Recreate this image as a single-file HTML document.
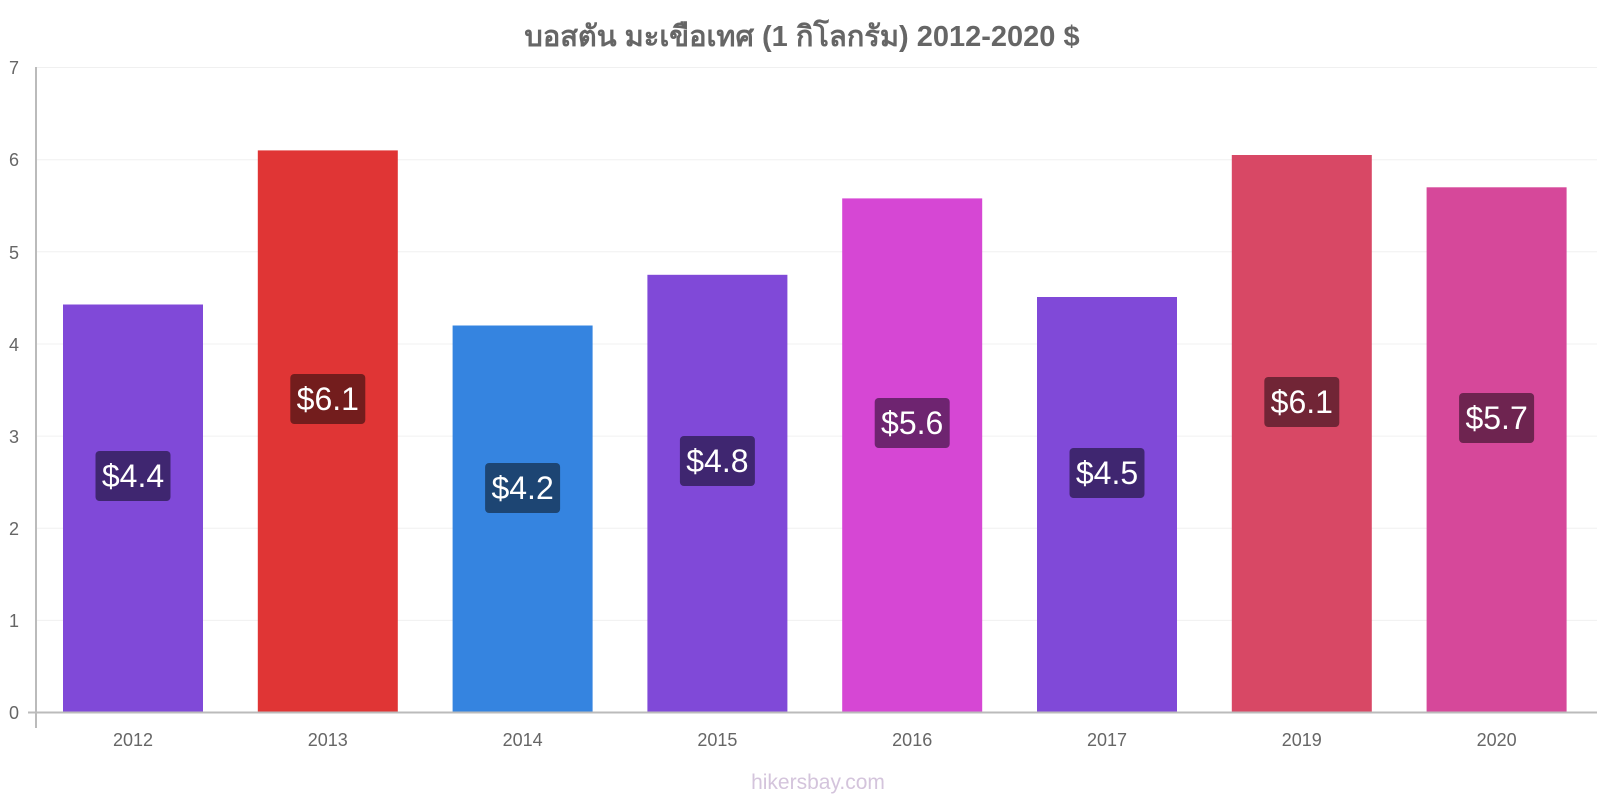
<!DOCTYPE html>
<html><head><meta charset="utf-8"><style>
body{margin:0;background:#fff;width:1600px;height:800px;overflow:hidden}
svg text{font-family:"Liberation Sans","Noto Sans CJK SC",sans-serif}
</style></head><body>
<svg width="1600" height="800" viewBox="0 0 1600 800">
<text x="802" y="46" text-anchor="middle" font-size="29" font-weight="bold" fill="#666">บอสตัน มะเขือเทศ (1 กิโลกรัม) 2012-2020 $</text>
<g stroke="#f0f0f0" stroke-width="1">
<line x1="36" x2="1597" y1="620.4" y2="620.4"/><line x1="36" x2="1597" y1="528.2" y2="528.2"/>
<line x1="36" x2="1597" y1="436.1" y2="436.1"/><line x1="36" x2="1597" y1="344" y2="344"/>
<line x1="36" x2="1597" y1="251.8" y2="251.8"/><line x1="36" x2="1597" y1="159.7" y2="159.7"/>
<line x1="36" x2="1597" y1="67.5" y2="67.5"/>
</g>
<g font-size="18" fill="#666" text-anchor="middle">
<text x="14" y="719">0</text><text x="14" y="627">1</text><text x="14" y="535">2</text>
<text x="14" y="443">3</text><text x="14" y="351">4</text><text x="14" y="259">5</text>
<text x="14" y="166">6</text><text x="14" y="74">7</text>
</g>
<rect x="63" y="304.5" width="140" height="408" fill="#8049d8"/>
<rect x="257.8" y="150.4" width="140" height="562.1" fill="#e03535"/>
<rect x="452.6" y="325.5" width="140" height="387" fill="#3584e0"/>
<rect x="647.4" y="274.8" width="140" height="437.7" fill="#8049d8"/>
<rect x="842.2" y="198.4" width="140" height="514.1" fill="#d647d4"/>
<rect x="1037" y="297" width="140" height="415.5" fill="#8049d8"/>
<rect x="1231.8" y="155" width="140" height="557.5" fill="#d84865"/>
<rect x="1426.6" y="187.3" width="140" height="525.2" fill="#d6489a"/>
<line x1="36" x2="36" y1="67" y2="728" stroke="#bbb" stroke-width="2"/>
<line x1="28" x2="1597" y1="712.5" y2="712.5" stroke="#bbb" stroke-width="2"/>
<g font-size="32" fill="#fff" text-anchor="middle">
<rect x="95.5" y="451" width="75" height="50" rx="4" fill="#3f2670"/><text x="133" y="487">$4.4</text>
<rect x="290.3" y="374" width="75" height="50" rx="4" fill="#731d1d"/><text x="327.8" y="410">$6.1</text>
<rect x="485.1" y="463" width="75" height="50" rx="4" fill="#1d4573"/><text x="522.6" y="499">$4.2</text>
<rect x="679.9" y="436" width="75" height="50" rx="4" fill="#3f2670"/><text x="717.4" y="472">$4.8</text>
<rect x="874.7" y="398" width="75" height="50" rx="4" fill="#6e2470"/><text x="912.2" y="434">$5.6</text>
<rect x="1069.5" y="448" width="75" height="50" rx="4" fill="#3f2670"/><text x="1107" y="484">$4.5</text>
<rect x="1264.3" y="377" width="75" height="50" rx="4" fill="#712536"/><text x="1301.8" y="413">$6.1</text>
<rect x="1459.1" y="393" width="75" height="50" rx="4" fill="#6e2450"/><text x="1496.6" y="429">$5.7</text>
</g>
<g font-size="18" fill="#666" text-anchor="middle">
<text x="133" y="746">2012</text><text x="327.8" y="746">2013</text><text x="522.6" y="746">2014</text>
<text x="717.4" y="746">2015</text><text x="912.2" y="746">2016</text><text x="1107" y="746">2017</text>
<text x="1301.8" y="746">2019</text><text x="1496.6" y="746">2020</text>
</g>
<text x="818" y="789" text-anchor="middle" font-size="21" fill="#d4c4dc">hikersbay.com</text>
</svg>
</body></html>
